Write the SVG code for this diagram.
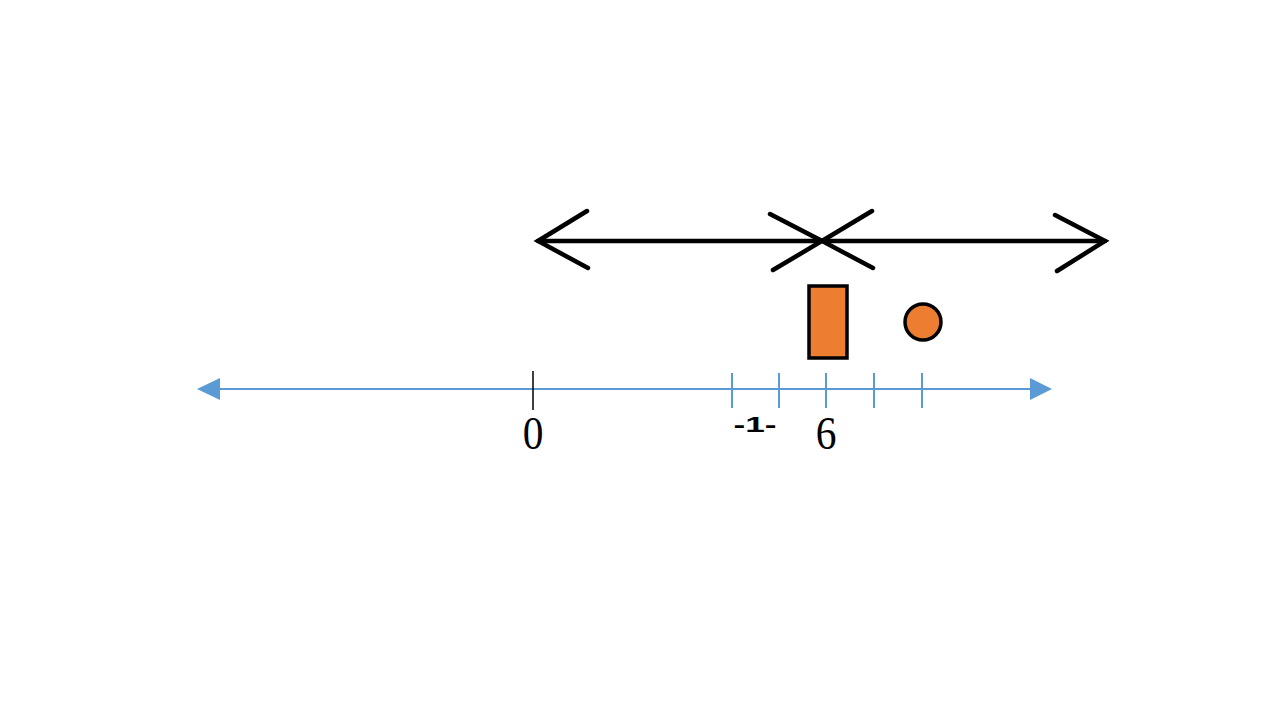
<svg xmlns="http://www.w3.org/2000/svg" width="1280" height="720" viewBox="0 0 1280 720">
<style>
.axis{stroke:#5B9BD5;stroke-width:2;fill:none}
.tick{stroke:#5B9BD5;stroke-width:2}
.blk{stroke:#000;stroke-width:4.5;stroke-linecap:round;fill:none}
.shape{fill:#ED7D31;stroke:#000;stroke-width:3.5}
.num{font-family:"Liberation Serif","DejaVu Serif",serif;font-size:46px;fill:#000;text-anchor:middle}
.small{font-family:"Liberation Sans","DejaVu Sans",sans-serif;font-size:22px;fill:#000;text-anchor:middle;font-weight:bold}
</style>
<rect width="1280" height="720" fill="#fff"/>
<g id="connectors">
<line class="axis" x1="215" y1="389" x2="1035" y2="389"/>
<polygon points="197,389 220,378 220,400" fill="#5B9BD5"/>
<polygon points="1052,389 1030,378 1030,400" fill="#5B9BD5"/>
<line class="blk" x1="538" y1="241" x2="1105" y2="241"/>
<polyline class="blk" points="587,211 538,241 588,268"/>
<polyline class="blk" points="770,214 822,241 773,270"/>
<polyline class="blk" points="872,211 822,241 873,268"/>
<polyline class="blk" points="1055,215 1105,241 1057,271"/>
</g>
<g id="ticks">
<line x1="533" y1="371" x2="533" y2="410" stroke="#000" stroke-width="1.5"/>
<line class="tick" x1="732" y1="373" x2="732" y2="408"/>
<line class="tick" x1="779" y1="373" x2="779" y2="408"/>
<line class="tick" x1="826" y1="373" x2="826" y2="408"/>
<line class="tick" x1="874" y1="373" x2="874" y2="408"/>
<line class="tick" x1="922" y1="373" x2="922" y2="408"/>
</g>
<g id="label-0"><text class="num" x="533" y="449" transform="translate(533 0) scale(0.9 1) translate(-533 0)">0</text></g>
<g id="label-6"><text class="num" x="826" y="449" transform="translate(826 0) scale(0.9 1) translate(-826 0)">6</text></g>
<g id="label-1"><text class="small" x="755" y="432" transform="translate(755 0) scale(1.6 1) translate(-755 0)">-1-</text></g>
<g id="rect-node"><rect class="shape" x="809" y="286" width="38" height="72"/></g>
<g id="circle-node"><circle class="shape" cx="923" cy="322" r="18"/></g>
</svg>
